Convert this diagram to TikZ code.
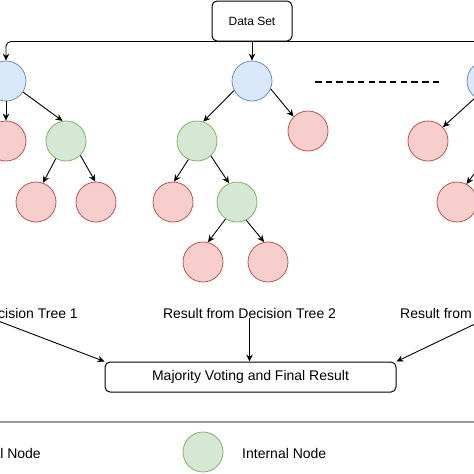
\documentclass[tikz,border=0pt]{standalone}
\usepackage{fontspec}
\setmainfont{Liberation Sans}
\usetikzlibrary{arrows.meta}

\definecolor{rootfill}{HTML}{DAE8FC}
\definecolor{rootdraw}{HTML}{6C8EBF}
\definecolor{innerfill}{HTML}{D5E8D4}
\definecolor{innerdraw}{HTML}{82B366}
\definecolor{leaffill}{HTML}{F8CECC}
\definecolor{leafdraw}{HTML}{B85450}

\begin{document}
\begin{tikzpicture}[x=1pt,y=-1pt,
		arr/.style={line width=0.9pt,-{Stealth[length=7pt,width=6.5pt]}},
		treenode/.style={circle,line width=0.8pt,minimum size=40pt,inner sep=0pt},
		rootnode/.style={treenode,draw=rootdraw,fill=rootfill},
		innernode/.style={treenode,draw=innerdraw,fill=innerfill},
		leafnode/.style={treenode,draw=leafdraw,fill=leaffill},
		lbl/.style={font=\fontsize{14}{16}\selectfont,inner sep=0pt},
		stagebox/.style={draw,rounded corners=5pt,line width=1pt,inner sep=0pt}]
			\useasboundingbox (0,0) rectangle (474,474);
			\clip (0,0) rectangle (474,474);
			\node[stagebox,minimum width=80pt,minimum height=40pt,font=\fontsize{12}{14}\selectfont] (ds) at (252,21) {Data Set};
			\node[rootnode] (rt1) at (6,81) {};
			\node[rootnode] (rt2) at (252,81) {};
			\node[rootnode] (rt3) at (487,81) {};
			\draw[arr,rounded corners=5pt] (ds.south) -- (ds.south -| rt1) -- (rt1.north);
			\draw[arr,rounded corners=5pt] (ds.south) -- (ds.south -| rt3) -- (rt3.north);
			\draw[arr] (ds.south) -- (rt2.north);
			\draw[line width=2pt,dash pattern=on 6.5pt off 4.2pt] (315,82) -- (443,82);
			\node[leafnode] (lf1a) at (6,141) {};
			\node[innernode] (in1) at (66,141) {};
			\node[leafnode] (lf1b) at (36,202) {};
			\node[leafnode] (lf1c) at (96,202) {};
			\draw[arr] (rt1.south) -- (lf1a.north);
			\draw[arr] (rt1.-33) -- (in1.100);
			\draw[arr] (in1.-120) -- (lf1b.70);
			\draw[arr] (in1.-45) -- (lf1c.92);
			\node[innernode] (in2a) at (197,141) {};
			\node[leafnode] (lf2a) at (308,131) {};
			\node[leafnode] (lf2b) at (173,202) {};
			\node[innernode] (in2b) at (237,202) {};
			\node[leafnode] (lf2c) at (203,262) {};
			\node[leafnode] (lf2d) at (268,262) {};
			\draw[arr] (rt2.-152) -- (in2a.72);
			\draw[arr] (rt2.-23) -- (lf2a.135);
			\draw[arr] (in2a.-115) -- (lf2b.87);
			\draw[arr] (in2a.-47) -- (in2b.113);
			\draw[arr] (in2b.-124) -- (lf2c.76);
			\draw[arr] (in2b.-63) -- (lf2d.101);
			\node[leafnode] (lf3a) at (428,141) {};
			\node[leafnode] (lf3b) at (457,202) {};
			\coordinate (in3) at (492,150);
			\draw[arr] (rt3.-125) -- (lf3a.43);
			\draw[arr] (in3) -- (lf3b.62);
			\node[lbl,anchor=east] (res1) at (78,313) {Result from Decision Tree 1};
			\node[lbl] (res2) at (249.5,313) {Result from Decision Tree 2};
			\node[lbl,anchor=west] (res3) at (400,313) {Result from Decision Tree 3};
			\node[stagebox,lbl,minimum width=291pt,minimum height=30pt] (vote) at (250.5,377) {Majority Voting and Final Result};
			\draw[arr] (res1.south) -- (vote.north west);
			\draw[arr] (res2.south) -- (res2.south |- vote.north);
			\draw[arr] (res3.south) -- (vote.north east);
			\draw[black!40,line width=1.2pt] (0,422) -- (474,422);
			\node[lbl,anchor=east] (legleaf) at (41,453) {Terminal Node};
			\node[innernode] (leginner) at (203,452) {};
			\node[lbl,anchor=west] (leginnertxt) at (242,453) {Internal Node};
		\end{tikzpicture}
\end{document}
